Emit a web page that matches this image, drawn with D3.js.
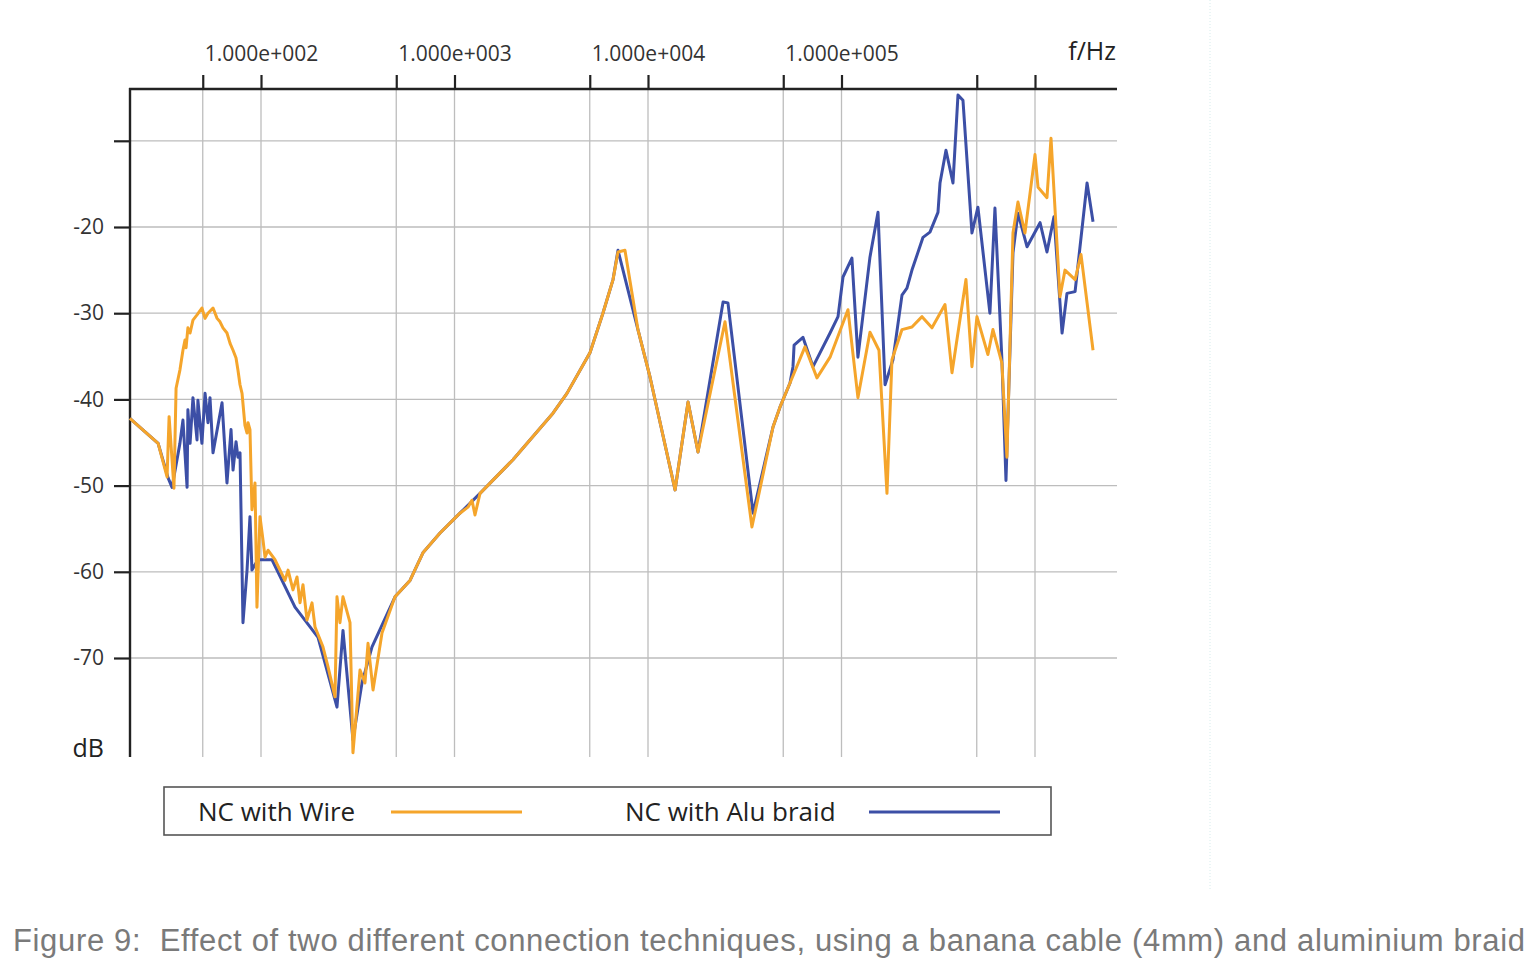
<!DOCTYPE html>
<html>
<head>
<meta charset="utf-8">
<script src="https://cdn.jsdelivr.net/npm/d3@7"></script>
<style>
  body { margin: 0; background: #fff; }
  svg { display: block; }
</style>
</head>
<body>
<div id="graph"></div>
<script>
// frequency in Hz, level in dB
var wireFreq = [21.0, 29.4, 32.7, 33.5, 35.5, 36.4, 38.1, 39.5, 40.5, 41.0, 41.9, 43.0, 44.5, 46.7, 49.5, 51.4, 53.2, 56.5, 59.3, 61.4, 63.6, 66.7, 69.2, 71.7, 74.3, 76.0, 77.9, 79.8, 82.6, 84.7, 85.7, 87.7, 89.8, 93.1, 95.3, 98.8, 102.4, 104.9, 108.7, 118.1, 125.4, 133.0, 138.0, 146.3, 153.5, 159.1, 164.8, 172.9, 183.5, 190.2, 209.0, 221.9, 241.2, 247.0, 255.9, 265.3, 288.4, 298.7, 324.8, 344.6, 357.3, 379.3, 422.0, 492.7, 589.0, 686.9, 841.8, 1067, 1174, 1231, 1276, 1355, 2005, 3228, 3812, 5012, 5848, 6597, 6998, 7603, 8872, 10240, 13800, 16110, 18130, 25000, 34440, 44260, 48090, 54190, 64730, 74680, 87280, 108000, 121600, 140300, 156200, 171800, 182300, 205400, 231300, 260700, 293500, 342700, 372400, 439800, 472200, 501200, 571000, 606300, 674500, 716200, 769400, 816600, 887200, 1000000, 1037000, 1153000, 1210000, 1346000, 1429000, 1611000, 1729000, 1995000];
var wireDb = [-42.2, -45.1, -49.0, -42.0, -50.3, -38.7, -36.6, -34.3, -33.1, -34.0, -31.7, -32.3, -30.8, -30.2, -29.4, -30.6, -30.0, -29.4, -30.6, -31.0, -31.7, -32.3, -33.5, -34.3, -35.2, -36.6, -38.3, -39.3, -43.0, -43.9, -42.7, -43.5, -52.8, -49.7, -64.1, -53.6, -56.3, -58.3, -57.5, -58.6, -59.8, -61.0, -59.8, -62.1, -60.6, -63.6, -61.5, -65.6, -63.6, -66.4, -68.7, -71.0, -74.5, -62.9, -65.9, -62.9, -65.9, -81.0, -71.4, -72.9, -68.3, -73.7, -67.1, -62.9, -61.0, -57.8, -55.5, -53.2, -52.5, -51.7, -53.4, -50.9, -47.0, -41.6, -39.3, -34.6, -30.0, -26.1, -22.9, -22.7, -31.9, -37.4, -50.5, -40.3, -46.1, -31.0, -54.8, -43.2, -40.9, -38.1, -33.9, -37.5, -35.1, -29.6, -39.8, -32.2, -34.3, -50.9, -35.4, -31.9, -31.6, -30.4, -31.7, -29.0, -36.9, -26.1, -36.2, -30.4, -34.8, -31.9, -35.8, -46.7, -20.7, -17.1, -20.7, -11.6, -15.4, -16.6, -9.7, -28.1, -25.0, -26.1, -23.2, -34.3];

var aluFreq = [21.0, 29.4, 33.1, 34.7, 38.1, 39.5, 41.5, 41.9, 43.0, 44.5, 46.7, 47.2, 49.5, 51.4, 53.2, 54.5, 56.5, 62.9, 66.7, 70.0, 71.7, 74.3, 76.0, 77.9, 80.7, 84.7, 87.7, 89.8, 96.4, 114.0, 149.9, 197.1, 247.0, 265.3, 298.7, 332.5, 374.8, 492.7, 589.0, 686.9, 841.8, 1067, 1355, 2005, 3228, 3812, 5012, 5848, 6597, 6998, 8872, 10240, 13800, 16110, 18130, 24430, 25890, 34900, 44260, 48090, 54190, 56140, 56880, 63200, 71240, 87280, 95940, 101800, 113200, 121600, 140300, 154400, 167900, 184500, 205400, 217900, 231300, 263800, 286500, 315200, 322900, 346700, 376800, 399900, 424400, 472200, 507000, 584800, 620900, 674500, 707900, 769400, 816600, 909900, 1062000, 1153000, 1254000, 1380000, 1463000, 1611000, 1858000, 1995000];
var aluDb = [-42.2, -45.1, -49.1, -50.2, -45.1, -42.4, -50.2, -41.2, -45.1, -39.8, -44.7, -40.1, -45.1, -39.3, -42.7, -39.8, -46.2, -40.4, -49.7, -43.5, -48.2, -44.9, -46.7, -46.2, -65.9, -59.8, -53.6, -59.8, -58.6, -58.6, -64.1, -67.6, -75.7, -66.8, -79.5, -72.9, -68.7, -62.9, -61.0, -57.8, -55.5, -53.2, -50.9, -47.0, -41.6, -39.3, -34.6, -30.0, -26.1, -22.7, -31.9, -37.4, -50.5, -40.3, -46.1, -28.7, -28.8, -53.2, -43.2, -40.9, -38.1, -36.2, -33.7, -32.8, -36.2, -32.3, -30.4, -25.8, -23.6, -35.1, -23.5, -18.3, -38.3, -35.4, -27.9, -27.1, -25.0, -21.2, -20.6, -18.3, -14.9, -11.1, -14.9, -4.7, -5.3, -20.7, -17.7, -30.0, -17.8, -35.4, -49.4, -23.0, -18.4, -22.3, -19.5, -22.9, -18.8, -32.3, -27.7, -27.5, -14.9, -19.4];

var xTicks = [50, 100, 500, 1000, 5000, 10000, 50000, 100000, 500000, 1000000];
var xLabels = ['', '1.000e+002', '', '1.000e+003', '', '1.000e+004', '', '1.000e+005', '', ''];
var yTicks = [-10, -20, -30, -40, -50, -60, -70];
var yLabels = ['', '-20', '-30', '-40', '-50', '-60', '-70'];
var seriesNames = ['NC with Wire', 'NC with Alu braid'];
var caption = 'Figure 9:\u00a0 Effect of two different connection techniques, using a banana cable (4mm) and aluminium braid';

var width = 1536,
height = 973,
plotLeft = 130, plotRight = 1117, plotTop = 89, plotBottom = 757;

var orange = '#f5a52b', blue = '#3c4fa6';

var svg = d3.select('#graph').append('svg')
    .attr('width', width).attr('height', height);

var x = d3.scaleLog().domain([100, 1000000]).range([261, 1035]);
var y = d3.scaleLinear().domain([-20, -70]).range([227, 658]);

// faint page guide on the right
svg.append('line')
    .attr('x1', 1210).attr('x2', 1210).attr('y1', 0).attr('y2', 890)
    .attr('stroke', '#d6ecec').attr('stroke-dasharray', '1,2');

// grid
svg.append('g').selectAll('line').data(yTicks).enter().append('line')
    .attr('x1', plotLeft).attr('x2', plotRight)
    .attr('y1', function(d) { return y(d); }).attr('y2', function(d) { return y(d); })
    .attr('stroke', '#bdbdbd').attr('stroke-width', 1.3);
svg.append('g').selectAll('line').data(xTicks).enter().append('line')
    .attr('x1', function(d) { return x(d); }).attr('x2', function(d) { return x(d); })
    .attr('y1', plotTop).attr('y2', plotBottom)
    .attr('stroke', '#bdbdbd').attr('stroke-width', 1.3);

// top axis
var xAxis = d3.axisTop(x).tickValues(xTicks).tickSize(14).tickFormat(function(d, i) { return xLabels[i]; });
var gx = svg.append('g').attr('transform', 'translate(0,' + plotTop + ')').call(xAxis);
gx.select('.domain').remove();
gx.selectAll('.tick line').attr('stroke', '#222').attr('stroke-width', 2.2);
gx.selectAll('.tick text')
    .attr('y', -28)
    .style('font-family', '"Open Sans", sans-serif').style('font-size', '21px').attr('fill', '#333');
svg.append('line').attr('x1', plotLeft - 1).attr('x2', plotRight).attr('y1', plotTop).attr('y2', plotTop)
    .attr('stroke', '#222').attr('stroke-width', 2.4);

// left axis
var yAxis = d3.axisLeft(y).tickValues(yTicks).tickSize(16).tickFormat(function(d, i) { return yLabels[i]; });
var gy = svg.append('g').attr('transform', 'translate(' + plotLeft + ',0)').call(yAxis);
gy.select('.domain').remove();
gy.selectAll('.tick line').attr('stroke', '#222').attr('stroke-width', 2.2);
gy.selectAll('.tick text')
    .attr('x', -26)
    .style('font-family', '"Open Sans", sans-serif').style('font-size', '21px').attr('fill', '#333');
svg.append('line').attr('x1', plotLeft).attr('x2', plotLeft).attr('y1', plotTop - 1).attr('y2', plotBottom)
    .attr('stroke', '#222').attr('stroke-width', 2.4);

svg.append('text').attr('x', 1116).attr('y', 60).attr('text-anchor', 'end')
    .style('font-family', '"Open Sans", sans-serif').style('font-size', '25px').style('font-weight', 500)
    .attr('fill', '#222').text('f/Hz');
svg.append('text').attr('x', 104).attr('y', 757).attr('text-anchor', 'end')
    .style('font-family', '"Open Sans", sans-serif').style('font-size', '25px')
    .attr('fill', '#222').text('dB');

// series
var line = d3.line().x(function(d) { return x(d[0]); }).y(function(d) { return y(d[1]); });
var series = [
  {color: blue, pts: d3.zip(aluFreq, aluDb)},
  {color: orange, pts: d3.zip(wireFreq, wireDb)}
];
svg.append('g').selectAll('path').data(series).enter().append('path')
    .attr('d', function(d) { return line(d.pts); })
    .attr('fill', 'none')
    .attr('stroke', function(d) { return d.color; })
    .attr('stroke-width', 3)
    .attr('stroke-linejoin', 'round');

// legend
var lg = svg.append('g');
lg.append('rect').attr('x', 164).attr('y', 787).attr('width', 887).attr('height', 48)
    .attr('fill', 'none').attr('stroke', '#555').attr('stroke-width', 1.6);
var items = [
  {name: seriesNames[0], color: orange, tx: 198, lx: 391},
  {name: seriesNames[1], color: blue, tx: 625, lx: 869}
];
items.forEach(function(it) {
  lg.append('text').attr('x', it.tx).attr('y', 821)
      .style('font-family', '"Open Sans", sans-serif').style('font-size', '26px')
      .attr('fill', '#222').text(it.name);
  lg.append('line').attr('x1', it.lx).attr('x2', it.lx + 131).attr('y1', 812).attr('y2', 812)
      .attr('stroke', it.color).attr('stroke-width', 3);
});

// caption
svg.append('text').attr('x', 13).attr('y', 951)
    .style('font-family', '"Liberation Sans", Arial, sans-serif').style('font-size', '31px')
    .attr('textLength', 1512).attr('lengthAdjust', 'spacing')
    .attr('fill', '#7a7a7a').text(caption);
</script>
</body>
</html>
